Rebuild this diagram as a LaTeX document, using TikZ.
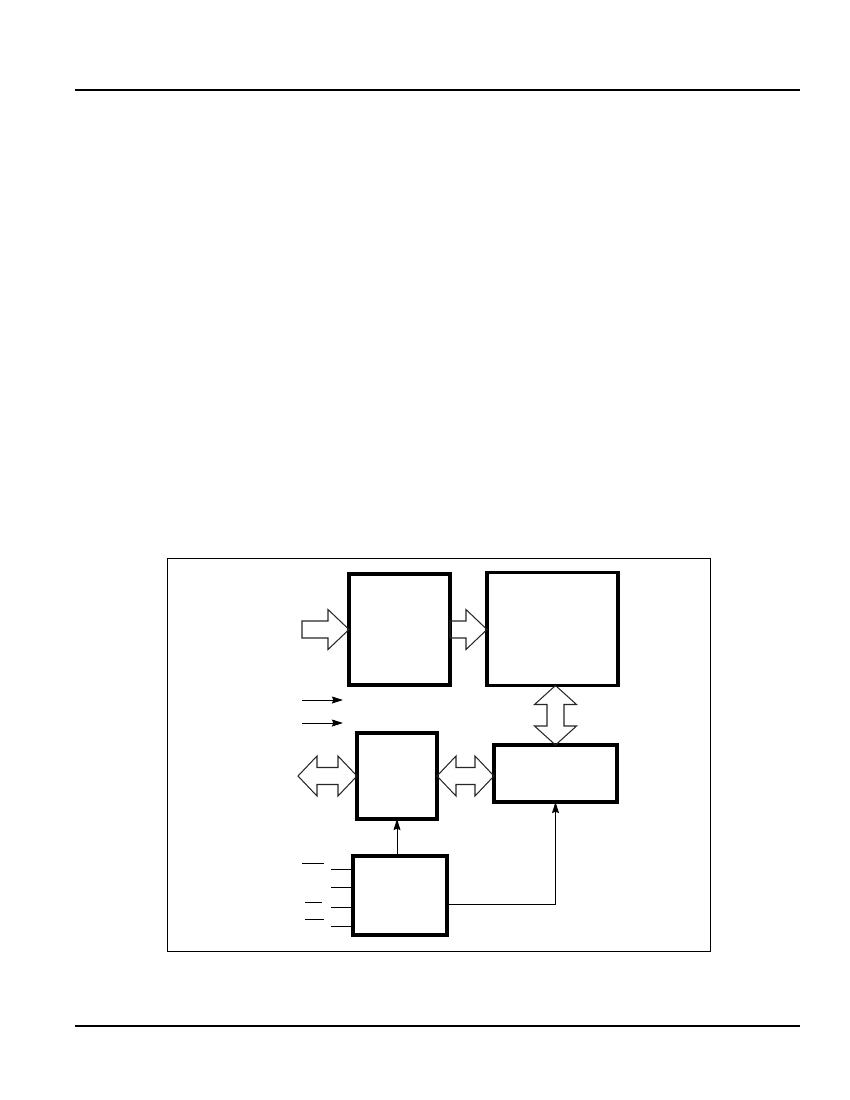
\documentclass[tikz,border=0pt]{standalone}
\usepackage{tikz}
\usetikzlibrary{arrows.meta,calc,positioning}
\tikzset{
	unit/.store in=\unitlen,
	unit=0.254mm,
	block diagram/.style={
		x=\unitlen, y=-\unitlen,
		line width=0.7pt,
		ar/.style={-{Stealth[length=8pt,width=5pt,inset=1pt]}},
		fat/.style={draw=black!85, line width=0.75pt, line join=miter},
		rule/.style={line width=0.75pt}
		},
	blk/.style 2 args={draw, line width=2.3pt, minimum width=#1*\unitlen,
		minimum height=#2*\unitlen, inner sep=0pt, outer sep=0pt}
}

\begin{document}
\begin{tikzpicture}[block diagram]
  \useasboundingbox (0,0) rectangle (850,1100);
  \draw[rule] (75,90) -- (800,90);
  \draw[rule] (75,1026) -- (800,1026);
  \draw[line width=0.6pt] (167,558) rectangle (710,951);
  \node[blk={101}{111}] (A) at (399.5,629.5) {};
  \node[blk={131}{113}] (B) at (552.5,629) {};
  \node[blk={80}{86}] (C) at (397,776) {};
  \node[blk={123}{57}] (D) at (555.5,773.5) {};
  \node[blk={94}{79}] (E) at (400,895.5) {};
  % free ends and tips
  \coordinate (in1) at (302,700);
  \coordinate (in2) at (302,723);
  \coordinate (bus) at (298,776);
  \coordinate (ab) at (A.east -| B.west);
  \coordinate (cd) at (C.east -| D.west);
  \coordinate (bd) at (D.north |- B.south);
  % wide arrows
  \draw[fat] (A.west) -- ++(-21,-20) -- ++(0,11.5) -- ++(-26,0) -- ++(0,17)
        -- ++(26,0) -- ++(0,11.5) -- cycle;
  \draw[fat] (ab) -- ++(-21,-20) -- ++(0,11.5) -- ($(A.east)+(0,-8.5)$)
        -- ($(A.east)+(0,8.5)$) -- ($(ab)+(-21,8.5)$) -- ++(0,11.5) -- cycle;
  \foreach \p/\q in {bus/C.west, C.east/cd}
    \draw[fat] (\p) -- ++(19,-20) -- ++(0,11.5) -- ($(\q)+(-19,-8.5)$) -- ++(0,-11.5)
          -- (\q) -- ++(-19,20) -- ++(0,-11.5) -- ($(\p)+(19,8.5)$) -- ++(0,11.5) -- cycle;
  \draw[fat] (bd) -- ++(-21,19) -- ++(12.5,0) -- ($(D.north)+(-8.5,-19)$) -- ++(-12.5,0)
        -- (D.north) -- ++(21,-19) -- ++(-12.5,0) -- ($(bd)+(8.5,19)$) -- ++(12.5,0) -- cycle;
  % thin lines
  \foreach \s in {in1,in2}
    \draw[ar] (\s) -- ++(41,0);
  \draw[ar] (C.south |- E.north) -- (C.south);
  \draw[ar] ($(E.east)+(0,8.5)$) -| (D.south);
  \foreach \y in {869,887,907,926}
    \draw (E.west |- 0,\y) -- ++(-22,0);
  \draw (302,863) -- ++(22,0) (305,902) -- ++(17,0) (305,919) -- ++(19,0);
\end{tikzpicture}
\end{document}
